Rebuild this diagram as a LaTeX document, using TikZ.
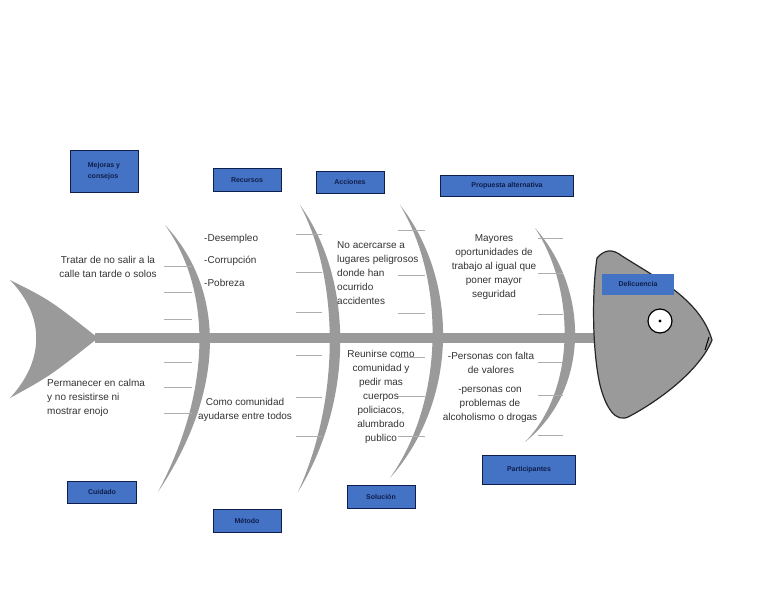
\documentclass[tikz,border=0pt]{standalone}
\usepackage{fontspec}
\setmainfont{Liberation Sans}
\definecolor{bone}{HTML}{9A9A9A}
\definecolor{boxblue}{HTML}{4472C4}
\definecolor{navy}{HTML}{0F1E4A}
\definecolor{txt}{HTML}{333333}
\newcommand{\myrib}[7]{% xt yt xb yb ctrl y1 y2
 \fill[bone] (#1,#2) .. controls (#5+7,#6) and (#5+7,#7) .. (#3,#4) .. controls (#5-7,#7) and (#5-7,#6) .. cycle;}
\begin{document}
\begin{tikzpicture}[x=1pt,y=-1pt,
  lab/.style={draw=navy,line width=0.8pt,fill=boxblue,text=navy,font=\fontsize{7}{9}\selectfont\bfseries\scshape,align=center,inner sep=2pt},
  t/.style={text=txt,font=\fontsize{10}{14}\selectfont,inner sep=0pt},
  tick/.style={draw=bone!80,line width=0.8pt}]
\useasboundingbox (0,0) rectangle (768,594);
\fill[white] (0,0) rectangle (768,594);
% spine
\fill[bone] (95,333) rectangle (600,343);
% tail
\fill[bone] (10,280) .. controls (50,300) .. (98,338) .. controls (50,376) .. (10,398) .. controls (45,360) and (45,316) .. cycle;
% ribs
\myrib{165}{225}{158}{492}{219}{290}{390}
\myrib{300}{205}{298}{492}{347}{280}{400}
\myrib{400}{205}{390}{478}{452}{280}{400}
\myrib{535}{228}{525}{442}{583}{290}{390}
% ticks
\foreach \y in {266,292,319,362,387,413} \draw[tick] (164,\y) -- (192,\y);
\foreach \y in {234,272,312,355,397,436} \draw[tick] (296,\y) -- (322,\y);
\foreach \y in {230,275,313,357,396,436} \draw[tick] (398,\y) -- (425,\y);
\foreach \y in {238,273,314,362,395,435} \draw[tick] (538,\y) -- (563,\y);
% head
\filldraw[fill=bone,draw=black!85,line width=1.2pt] (597,258) .. controls (604,250) and (612,248) .. (622,256) .. controls (660,280) and (700,300) .. (712,340) .. controls (700,370) and (660,400) .. (630,416) .. controls (615,425) and (605,405) .. (600,385) .. controls (592,350) and (592,290) .. cycle;
\draw[line width=1pt] (705,350) -- (709,337);
\node[circle,draw=black,line width=1.2pt,fill=white,minimum size=24pt,inner sep=0pt] (eye) at (660,321) {};
\fill (eye.center) circle (1.6pt);
% labels
\node[lab,minimum width=68pt,minimum height=42pt,align=left] (mc) at (104,171) {Mejoras y\\[2pt]consejos};
\node[lab,minimum width=68pt,minimum height=23pt] (rec) at (247,180) {Recursos};
\node[lab,minimum width=68pt,minimum height=22pt] (acc) at (350,182) {Acciones};
\node[lab,minimum width=133pt,minimum height=21pt] (pa) at (507,186) {Propuesta alternativa};
\node[lab,draw=none,minimum width=72pt,minimum height=21pt] (del) at (638,284) {Delicuencia};
\node[lab,minimum width=69pt,minimum height=22pt] (cui) at (102,492) {Cuidado};
\node[lab,minimum width=68pt,minimum height=23pt] (met) at (247,521) {Método};
\node[lab,minimum width=68pt,minimum height=23pt] (sol) at (381,497) {Solución};
\node[lab,minimum width=93pt,minimum height=29pt] (par) at (529,470) {Participantes};
% texts
\node[t,align=center] (t1) at (108,267) {Tratar de no salir a la\\calle tan tarde o solos};
\node[t,anchor=west] (t2) at (204,239) {-Desempleo};
\node[t,anchor=west] (t3) at (204,261) {-Corrupción};
\node[t,anchor=west] (t4) at (204,283) {-Pobreza};
\node[t,align=left,anchor=north west] (t5) at (337,241) {No acercarse a\\lugares peligrosos\\donde han\\ocurrido\\accidentes};
\node[t,align=center,anchor=north] (t6) at (494,234) {Mayores\\oportunidades de\\trabajo al igual que\\poner mayor\\seguridad};
\node[t,align=left,anchor=north west] (t7) at (47,379) {Permanecer en calma\\y no resistirse ni\\mostrar enojo};
\node[t,align=center] (t8) at (245,410) {Como comunidad\\ayudarse entre todos};
\node[t,align=center,anchor=north] (t9) at (381,350) {Reunirse como\\comunidad y\\pedir mas\\cuerpos\\policiacos,\\alumbrado\\publico};
\node[t,align=center] (t10) at (491,363) {-Personas con falta\\de valores};
\node[t,align=center,anchor=north] (t11) at (490,387) {-personas con\\problemas de\\alcoholismo o drogas};
\end{tikzpicture}
\end{document}
